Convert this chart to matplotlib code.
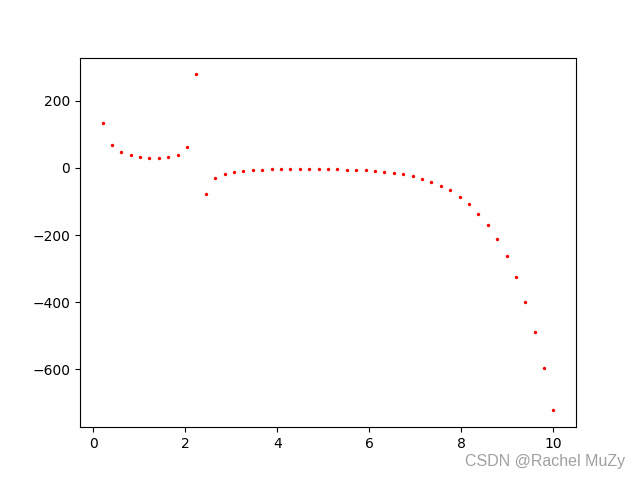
import matplotlib
matplotlib.use('Agg')
import matplotlib.pyplot as plt

# sample positions (49 points from ~0.2 to 10)
x = [0.204, 0.408, 0.612, 0.816, 1.020, 1.224, 1.429, 1.633, 1.837, 2.041,
     2.245, 2.449, 2.653, 2.857, 3.061, 3.265, 3.469, 3.673, 3.878, 4.082,
     4.286, 4.490, 4.694, 4.898, 5.102, 5.306, 5.510, 5.714, 5.918, 6.122,
     6.327, 6.531, 6.735, 6.939, 7.143, 7.347, 7.551, 7.755, 7.959, 8.163,
     8.367, 8.571, 8.776, 8.980, 9.184, 9.388, 9.592, 9.796, 10.000]

# values
y = [132, 67, 46, 37, 31, 28, 28, 31, 37, 61,
     278, -79, -31, -19, -13, -10, -7, -7, -4.5, -4.5,
     -4.5, -4.5, -4.5, -4.5, -4.5, -4.5, -7, -7, -7, -10,
     -13, -16, -19, -25, -34, -43, -55, -67, -88, -109,
     -138, -171, -213, -263, -326, -400, -490, -597, -722]

fig = plt.figure(figsize=(6.4, 4.8), dpi=100)
plt.scatter(x, y, s=2, c='r')

fig.text(0.976, 0.022, 'CSDN @Rachel MuZy', ha='right', va='bottom',
         fontsize=11.5, color='#a0a0a0', family='Liberation Sans')

plt.savefig('out.png', dpi=100)
